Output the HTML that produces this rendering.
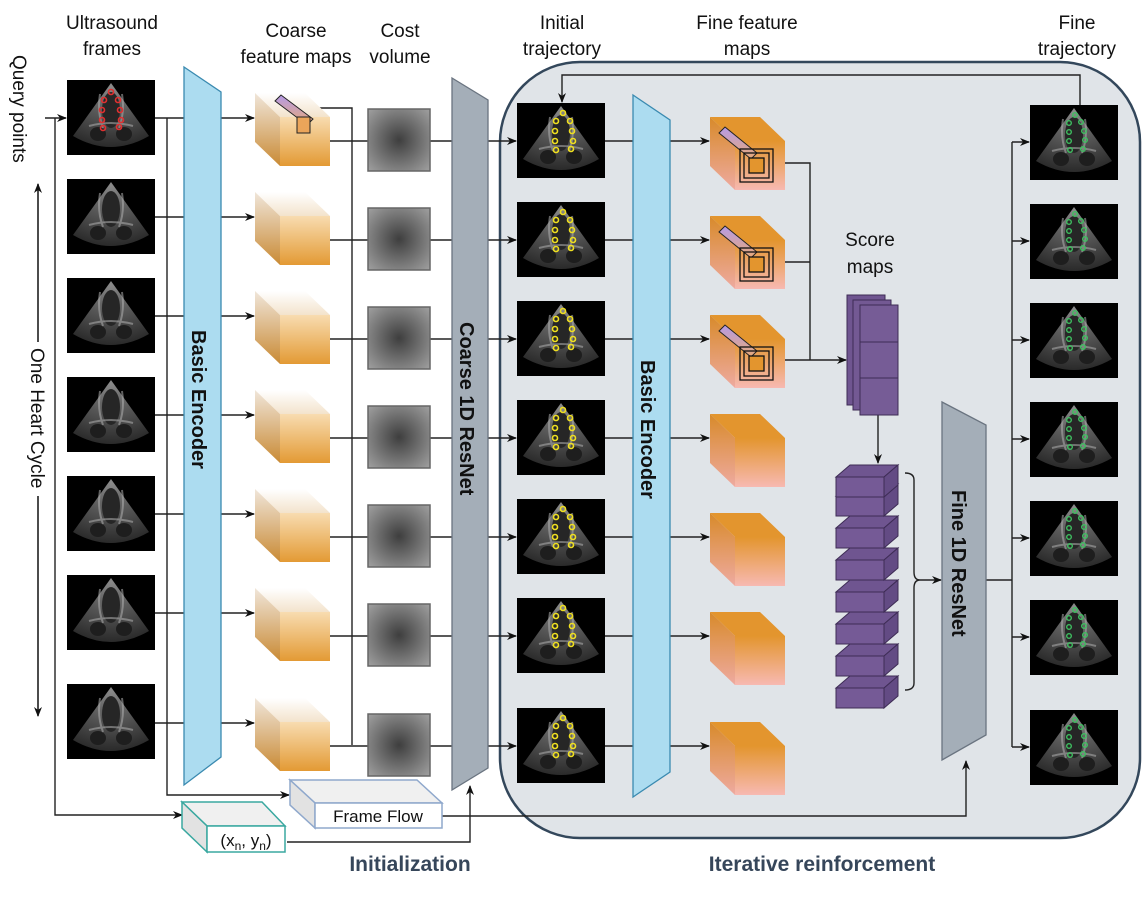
<!DOCTYPE html>
<html><head><meta charset="utf-8"><style>
html,body{margin:0;padding:0;background:#fff}
svg{display:block}
text{font-family:"Liberation Sans",sans-serif}
</style></head><body>
<svg width="1144" height="904" viewBox="0 0 1144 904" xmlns="http://www.w3.org/2000/svg">
<defs>
 <radialGradient id="fan" cx="0.5" cy="0.05" r="0.95">
  <stop offset="0" stop-color="#8a8a8a"/><stop offset="0.45" stop-color="#5a5a5a"/><stop offset="1" stop-color="#2a2a2a"/>
 </radialGradient>
 <radialGradient id="cost" cx="0.5" cy="0.5" r="0.7">
  <stop offset="0" stop-color="#3e3e3e"/><stop offset="1" stop-color="#a0a0a0"/>
 </radialGradient>
 <linearGradient id="cfront" x1="0" y1="0" x2="0" y2="1">
  <stop offset="0" stop-color="#f8dcb0"/><stop offset="1" stop-color="#e39a34"/>
 </linearGradient>
 <linearGradient id="ctop" x1="0" y1="0" x2="0" y2="1">
  <stop offset="0" stop-color="#ffffff"/><stop offset="1" stop-color="#f3e3cc"/>
 </linearGradient>
 <linearGradient id="cleft" x1="0" y1="0" x2="0" y2="1">
  <stop offset="0" stop-color="#f0e6da"/><stop offset="1" stop-color="#c98a34"/>
 </linearGradient>
 <linearGradient id="ffront" x1="0" y1="0" x2="0" y2="1">
  <stop offset="0" stop-color="#e3952e"/><stop offset="1" stop-color="#f7b9b2"/>
 </linearGradient>
 <linearGradient id="fleft" x1="0" y1="0" x2="0" y2="1">
  <stop offset="0" stop-color="#d88a2a"/><stop offset="1" stop-color="#eeaaa0"/>
 </linearGradient>
 <linearGradient id="purp" x1="0" y1="0" x2="0" y2="1">
  <stop offset="0" stop-color="#b59ae6"/><stop offset="1" stop-color="#e7a978"/>
 </linearGradient>
 <marker id="ar" markerWidth="10" markerHeight="10" refX="9" refY="5" orient="auto" markerUnits="userSpaceOnUse">
  <path d="M0,1 L10,5 L0,9 L3,5 Z" fill="#111"/>
 </marker>
 <symbol id="us" viewBox="0 0 88 75" width="88" height="75">
  <rect width="88" height="75" fill="#000"/>
  <path d="M44,3 L6,56 Q44,78 82,56 Z" fill="url(#fan)"/>
  <ellipse cx="44" cy="30" rx="9" ry="18" fill="#262626"/>
  <ellipse cx="31" cy="54" rx="8" ry="7" fill="#1e1e1e"/>
  <ellipse cx="57" cy="54" rx="8" ry="7" fill="#1e1e1e"/>
  <path d="M33,14 Q30,32 36,48 M55,14 Q58,32 52,48 M22,46 Q44,40 66,46" stroke="#b0b0b0" stroke-width="2" fill="none" opacity="0.55"/>
 </symbol>
 <g id="ccube">
  <polygon points="0,0 50,0 75,24 25,24" fill="url(#ctop)"/>
  <polygon points="0,0 25,24 25,73 0,49" fill="url(#cleft)"/>
  <rect x="25" y="24" width="50" height="49" fill="url(#cfront)"/>
 </g>
 <g id="fcube">
  <polygon points="0,0 50,0 75,24 25,24" fill="#e3952e"/>
  <polygon points="0,0 25,24 25,73 0,49" fill="url(#fleft)"/>
  <rect x="25" y="24" width="50" height="49" fill="url(#ffront)"/>
 </g>
 <g id="fcubeX">
  <use href="#fcube"/>
  <polygon points="9,16 15,10 47,36 41,42" fill="url(#purp)" stroke="#222" stroke-width="1"/>
  <rect x="30" y="32" width="33" height="33" fill="none" stroke="#111" stroke-width="1.3"/>
  <rect x="34" y="36" width="25" height="25" fill="none" stroke="#111" stroke-width="1.3"/>
  <rect x="39" y="41" width="15" height="15" fill="#e3952e" stroke="#111" stroke-width="1.3"/>
 </g>
 <g id="cost1"><rect width="62" height="62" fill="url(#cost)" stroke="#666" stroke-width="1.5"/></g>
 <g id="pblk">
  <polygon points="0,12 14,0 62,0 48,12" fill="#6f5590" stroke="#3e2c55" stroke-width="1"/>
  <polygon points="48,12 62,0 62,20 48,32" fill="#634b84" stroke="#3e2c55" stroke-width="1"/>
  <rect x="0" y="12" width="48" height="20" fill="#755a96" stroke="#3e2c55" stroke-width="1"/>
 </g>
 <g id="rdots" fill="none" stroke="#e03030" stroke-width="1.6">
  <circle cx="44" cy="12" r="2.5"/><circle cx="37" cy="20" r="2.5"/><circle cx="51" cy="20" r="2.5"/><circle cx="35" cy="30" r="2.5"/><circle cx="53" cy="30" r="2.5"/><circle cx="35" cy="40" r="2.5"/><circle cx="54" cy="40" r="2.5"/><circle cx="36" cy="48" r="2.5"/><circle cx="52" cy="47" r="2.5"/>
 </g>
 <g id="ydots" fill="none" stroke="#f0e020" stroke-width="1.6">
  <circle cx="46" cy="10" r="2.5"/><circle cx="39" cy="18" r="2.5"/><circle cx="53" cy="18" r="2.5"/><circle cx="38" cy="28" r="2.5"/><circle cx="55" cy="28" r="2.5"/><circle cx="38" cy="38" r="2.5"/><circle cx="56" cy="38" r="2.5"/><circle cx="39" cy="47" r="2.5"/><circle cx="54" cy="46" r="2.5"/>
 </g>
 <g id="gdots" fill="none" stroke="#3ec060" stroke-width="1.4">
  <circle cx="45" cy="10" r="2.3"/><circle cx="39" cy="18" r="2.3"/><circle cx="51" cy="17" r="2.3"/><circle cx="39" cy="27" r="2.3"/><circle cx="54" cy="26" r="2.3"/><circle cx="39" cy="36" r="2.3"/><circle cx="55" cy="35" r="2.3"/><circle cx="40" cy="45" r="2.3"/><circle cx="53" cy="44" r="2.3"/>
 </g>
</defs>

<rect x="500" y="62" width="640" height="776" rx="80" ry="80" fill="#e0e4e8" stroke="#33475b" stroke-width="2.5"/>

<g font-size="19" fill="#111" text-anchor="middle">
 <text x="112" y="29">Ultrasound</text><text x="112" y="55">frames</text>
 <text x="296" y="37">Coarse</text><text x="296" y="63">feature maps</text>
 <text x="400" y="37">Cost</text><text x="400" y="63">volume</text>
 <text x="562" y="29">Initial</text><text x="562" y="55">trajectory</text>
 <text x="747" y="29">Fine feature</text><text x="747" y="55">maps</text>
 <text x="1077" y="29">Fine</text><text x="1077" y="55">trajectory</text>
 <text x="870" y="246">Score</text><text x="870" y="273">maps</text>
</g>
<text transform="translate(13,55) rotate(90)" font-size="19" fill="#111">Query points</text>
<text transform="translate(31,348) rotate(90)" font-size="19" fill="#111">One Heart Cycle</text>
<g stroke="#111" stroke-width="1.5" fill="none">
 <line x1="38" y1="342" x2="38" y2="184" marker-end="url(#ar)"/>
 <line x1="38" y1="496" x2="38" y2="716" marker-end="url(#ar)"/>
</g>

<g stroke="#222" stroke-width="1.4" fill="none">
 <line x1="45" y1="118" x2="66" y2="118" marker-end="url(#ar)"/>
 <polyline points="55,118 55,815 182,815" marker-end="url(#ar)"/>
 <polyline points="167,118 167,795 289,795" marker-end="url(#ar)"/>
 <polyline points="287,842 470,842 470,786" marker-end="url(#ar)"/>
 <polyline points="442,816 966,816 966,761" marker-end="url(#ar)"/>
 <polyline points="298,108 352,108 352,745"/>
 <g id="rowL">
  <line x1="154" y1="118" x2="184" y2="118"/>
  <line x1="221" y1="118" x2="254" y2="118" marker-end="url(#ar)"/>
  <line x1="330" y1="141" x2="368" y2="141"/>
  <line x1="430" y1="141" x2="452" y2="141"/>
  <line x1="488" y1="141" x2="516" y2="141" marker-end="url(#ar)"/>
  <line x1="605" y1="141" x2="633" y2="141"/>
  <line x1="670" y1="141" x2="709" y2="141" marker-end="url(#ar)"/>
  <line x1="1012" y1="142" x2="1029" y2="142" marker-end="url(#ar)"/>
 </g>
 <use href="#rowL" y="99"/><use href="#rowL" y="198"/><use href="#rowL" y="297"/>
 <use href="#rowL" y="396"/><use href="#rowL" y="495"/><use href="#rowL" y="605"/>
 <polyline points="772,163 810,163 810,360"/>
 <line x1="772" y1="262" x2="810" y2="262"/>
 <line x1="772" y1="360" x2="846" y2="360" marker-end="url(#ar)"/>
 <line x1="878" y1="415" x2="878" y2="463" marker-end="url(#ar)"/>
 <path d="M905,473 Q914,473 914,480 L914,572 Q914,580 920,580 Q914,580 914,588 L914,683 Q914,690 905,690"/>
 <line x1="920" y1="580" x2="941" y2="580" marker-end="url(#ar)"/>
 <line x1="986" y1="580" x2="1012" y2="580"/>
 <line x1="1012" y1="142" x2="1012" y2="747"/>
 <polyline points="1080,105 1080,75 562,75 562,102" marker-end="url(#ar)"/>
</g>

<g>
 <use href="#us" x="67" y="80"/><use href="#rdots" x="67" y="80"/>
 <use href="#us" x="67" y="179"/><use href="#us" x="67" y="278"/><use href="#us" x="67" y="377"/>
 <use href="#us" x="67" y="476"/><use href="#us" x="67" y="575"/><use href="#us" x="67" y="684"/>
</g>
<polygon points="184,67 221,92 221,757 184,785" fill="#acdcf0" stroke="#3a8ab0" stroke-width="1.3"/>
<text transform="translate(192,330) rotate(90)" font-size="20" font-weight="bold" fill="#111">Basic Encoder</text>
<use href="#ccube" x="255" y="93"/>
<polygon points="275,101 281,95 313,119 307,125" fill="url(#purp)" stroke="#222"/>
<rect x="297" y="117" width="13" height="16" fill="#eba55a" stroke="#222"/>
<use href="#ccube" x="255" y="192"/><use href="#ccube" x="255" y="291"/><use href="#ccube" x="255" y="390"/>
<use href="#ccube" x="255" y="489"/><use href="#ccube" x="255" y="588"/><use href="#ccube" x="255" y="698"/>
<use href="#cost1" x="368" y="109"/><use href="#cost1" x="368" y="208"/><use href="#cost1" x="368" y="307"/>
<use href="#cost1" x="368" y="406"/><use href="#cost1" x="368" y="505"/><use href="#cost1" x="368" y="604"/><use href="#cost1" x="368" y="714"/>
<polygon points="452,78 488,100 488,768 452,790" fill="#a4aeb8" stroke="#6a7480" stroke-width="1.3"/>
<text transform="translate(460,322) rotate(90)" font-size="20" font-weight="bold" fill="#111">Coarse 1D ResNet</text>

<g>
 <use href="#us" x="517" y="103"/><use href="#ydots" x="517" y="103"/>
 <use href="#us" x="517" y="202"/><use href="#ydots" x="517" y="202"/>
 <use href="#us" x="517" y="301"/><use href="#ydots" x="517" y="301"/>
 <use href="#us" x="517" y="400"/><use href="#ydots" x="517" y="400"/>
 <use href="#us" x="517" y="499"/><use href="#ydots" x="517" y="499"/>
 <use href="#us" x="517" y="598"/><use href="#ydots" x="517" y="598"/>
 <use href="#us" x="517" y="708"/><use href="#ydots" x="517" y="708"/>
</g>
<polygon points="633,95 670,120 670,772 633,797" fill="#acdcf0" stroke="#3a8ab0" stroke-width="1.3"/>
<text transform="translate(641,360) rotate(90)" font-size="20" font-weight="bold" fill="#111">Basic Encoder</text>
<use href="#fcubeX" x="710" y="117"/><use href="#fcubeX" x="710" y="216"/><use href="#fcubeX" x="710" y="315"/>
<use href="#fcube" x="710" y="414"/><use href="#fcube" x="710" y="513"/><use href="#fcube" x="710" y="612"/><use href="#fcube" x="710" y="722"/>
<g stroke="#3e2c55" stroke-width="1">
 <rect x="847" y="295" width="38" height="110" fill="#6f5590"/>
 <rect x="853" y="300" width="38" height="110" fill="#735993"/>
 <rect x="860" y="305" width="38" height="110" fill="#765c96"/>
 <line x1="860" y1="342" x2="898" y2="342"/><line x1="860" y1="378" x2="898" y2="378"/>
</g>
<use href="#pblk" x="836" y="676"/><use href="#pblk" x="836" y="644"/><use href="#pblk" x="836" y="612"/>
<use href="#pblk" x="836" y="580"/><use href="#pblk" x="836" y="548"/><use href="#pblk" x="836" y="516"/><use href="#pblk" x="836" y="484"/><use href="#pblk" x="836" y="465"/>
<polygon points="942,402 986,425 986,735 942,760" fill="#a4aeb8" stroke="#6a7480" stroke-width="1.3"/>
<text transform="translate(952,490) rotate(90)" font-size="20" font-weight="bold" fill="#111">Fine 1D ResNet</text>
<g>
 <use href="#us" x="1030" y="105"/><use href="#gdots" x="1030" y="105"/>
 <use href="#us" x="1030" y="204"/><use href="#gdots" x="1030" y="204"/>
 <use href="#us" x="1030" y="303"/><use href="#gdots" x="1030" y="303"/>
 <use href="#us" x="1030" y="402"/><use href="#gdots" x="1030" y="402"/>
 <use href="#us" x="1030" y="501"/><use href="#gdots" x="1030" y="501"/>
 <use href="#us" x="1030" y="600"/><use href="#gdots" x="1030" y="600"/>
 <use href="#us" x="1030" y="710"/><use href="#gdots" x="1030" y="710"/>
</g>

<g stroke="#8fa8cc" stroke-width="1.5">
 <polygon points="290,780 417,780 442,803 315,803" fill="#f0f0f0"/>
 <polygon points="290,780 315,803 315,828 290,805" fill="#e2e2e2"/>
 <rect x="315" y="803" width="127" height="25" fill="#fff"/>
</g>
<text x="378" y="822" font-size="17" text-anchor="middle" fill="#111">Frame Flow</text>
<g stroke="#3aa8a0" stroke-width="1.5">
 <polygon points="182,802 262,802 285,826 207,826" fill="#f0f0f0"/>
 <polygon points="182,802 207,826 207,852 182,828" fill="#e2e2e2"/>
 <rect x="207" y="826" width="78" height="26" fill="#fff"/>
</g>
<text x="246" y="846" font-size="17" text-anchor="middle" fill="#111">(x<tspan font-size="12" dy="4">n</tspan><tspan dy="-4">, y</tspan><tspan font-size="12" dy="4">n</tspan><tspan dy="-4">)</tspan></text>

<text x="410" y="871" font-size="21" font-weight="bold" fill="#36465a" text-anchor="middle">Initialization</text>
<text x="822" y="871" font-size="21" font-weight="bold" fill="#36465a" text-anchor="middle">Iterative reinforcement</text>
</svg>
</body></html>
